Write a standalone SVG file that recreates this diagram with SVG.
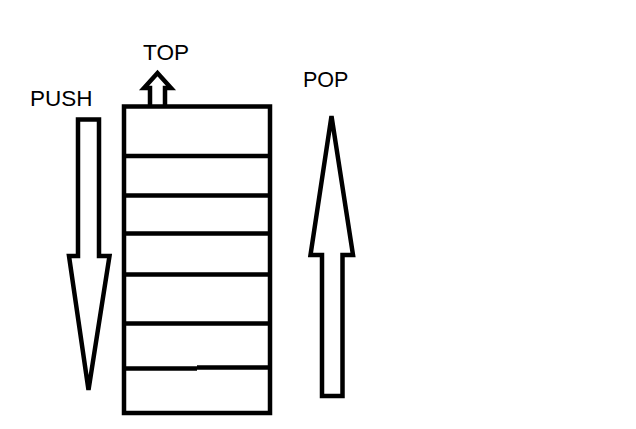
<svg xmlns="http://www.w3.org/2000/svg" width="636" height="429" viewBox="0 0 636 429">
<style>
.s{fill:none;stroke:#000;stroke-width:4.5;stroke-linejoin:miter;stroke-miterlimit:4}
.t{font-family:"Liberation Sans",Arial,sans-serif;font-size:22px;fill:#000}
</style>
<rect width="636" height="429" fill="#fff"/>
<g id="stack">
<rect class="s" x="124" y="106.5" width="146" height="306.5"/>
<path class="s" d="M124 156H270M124 195.5H270M124 233.5H270M124 274.5H270M124 323.5H270M124 368.5H197M197 367.5H270"/>
</g>
<g id="connectors">
<g id="top-arrow">
<path class="s" d="M150 106V88H144L157.5 73L171 88H165V106"/>
</g>
<g id="push-arrow">
<path class="s" d="M78 256V119.5H99V256H109.5L88.5 390L69 256Z"/>
</g>
<g id="pop-arrow">
<path class="s" d="M322 396V255H310.5L331.5 116L353 255H342.5V396Z"/>
</g>
</g>
<g id="labels">
<text class="t" x="143" y="59.5" textLength="46" lengthAdjust="spacingAndGlyphs">TOP</text>
<text class="t" x="30" y="106" textLength="62.5" lengthAdjust="spacingAndGlyphs">PUSH</text>
<text class="t" x="303" y="86.5" textLength="45.5" lengthAdjust="spacingAndGlyphs">POP</text>
</g>
</svg>
